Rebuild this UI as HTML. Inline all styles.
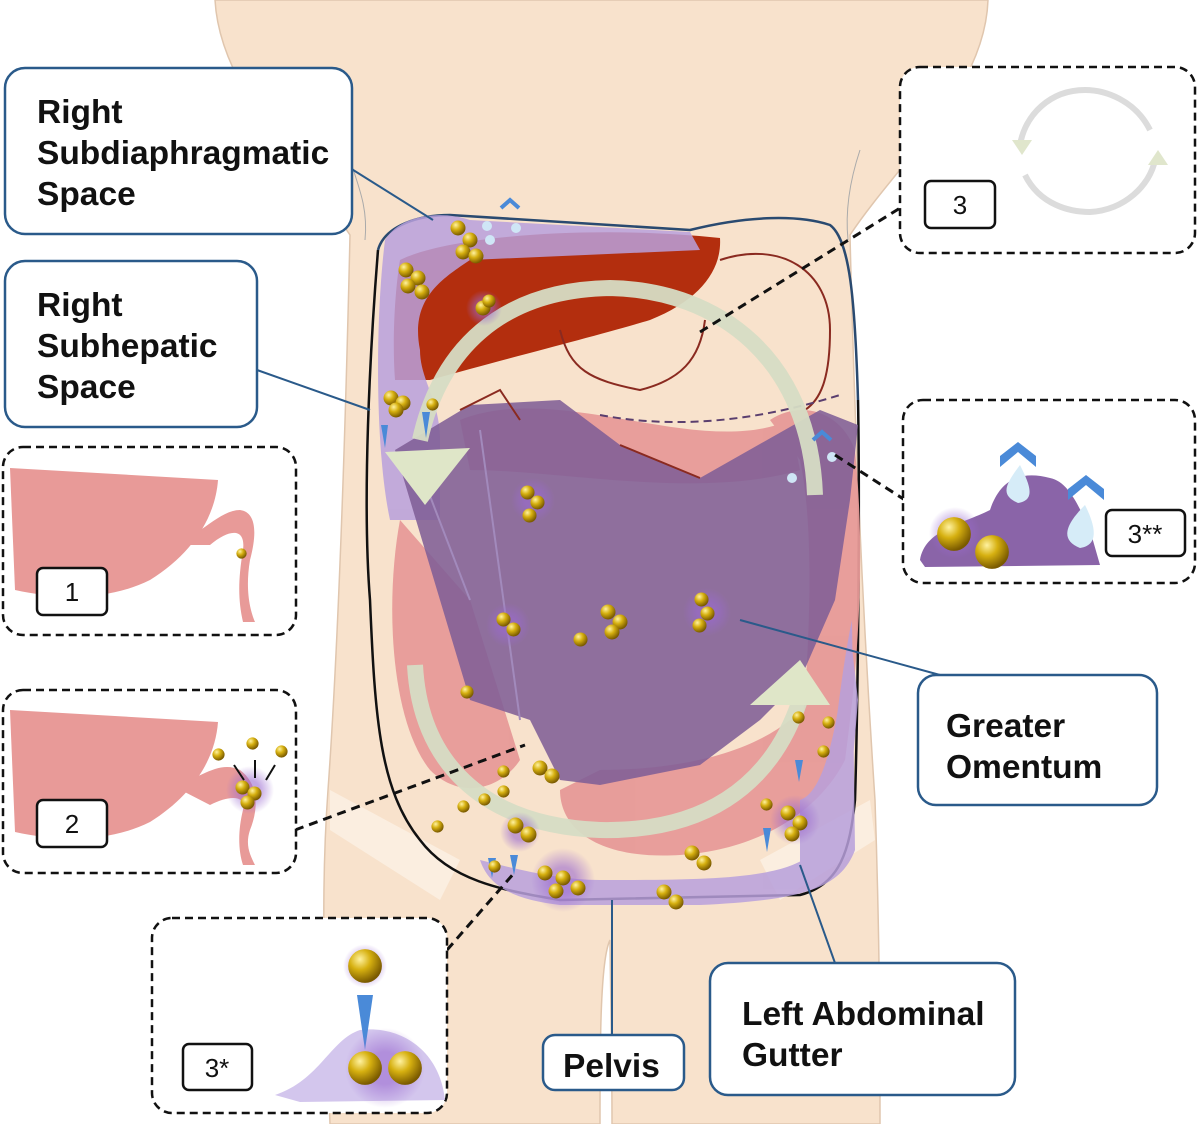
<!DOCTYPE html>
<html><head><meta charset="utf-8"><style>
html,body{margin:0;padding:0;background:#fff;}
svg{display:block}
text{font-family:"Liberation Sans",Arial,sans-serif;}
</style></head><body>
<svg width="1200" height="1124" viewBox="0 0 1200 1124" xmlns="http://www.w3.org/2000/svg">
<defs>
<radialGradient id="g" cx="35%" cy="30%" r="70%"><stop offset="0" stop-color="#fff2a0"/><stop offset="0.45" stop-color="#d6b010"/><stop offset="1" stop-color="#7a5a00"/></radialGradient>
<radialGradient id="gl" cx="50%" cy="50%" r="50%"><stop offset="0.4" stop-color="#9a6ad0" stop-opacity="0.6"/><stop offset="1" stop-color="#9a6ad0" stop-opacity="0"/></radialGradient>
<symbol id="b" viewBox="-8 -8 16 16"><circle r="7.5" fill="url(#g)"/></symbol>
</defs>
<path d="M215 0 L988 0 C985 90 900 160 850 235 C855 450 865 650 875 800 C880 950 880 1050 880 1124 L612 1124 C612 1050 610 960 610 940 C600 960 600 1050 600 1124 L330 1124 C325 1000 320 900 328 790 C338 650 345 450 350 235 C300 160 220 90 215 0 Z" fill="#f8e2cc" stroke="#e0c6ae" stroke-width="1.5"/>
<path d="M330 790 L460 860 L440 900 L330 830 Z" fill="#fbeee0"/>
<path d="M870 800 L760 860 L780 900 L875 840 Z" fill="#fbeee0"/>
<path d="M350 160 C360 190 368 210 365 240" stroke="#aaa" fill="none"/>
<path d="M860 150 C850 180 845 210 848 240" stroke="#aaa" fill="none"/>
<path d="M378 250 C385 225 420 215 450 215 L690 230 C750 215 800 215 830 225 C850 240 855 300 858 400" stroke="#2a4a70" stroke-width="2.5" fill="none"/>
<path d="M378 250 C370 350 362 500 370 600 C375 720 380 790 420 840 C450 880 500 890 560 900 L800 895 C840 885 850 850 855 800 C858 700 860 500 858 400" stroke="#111" stroke-width="2.5" fill="none"/>
<path d="M400 260 C450 235 600 225 720 238 C722 270 700 300 650 320 C600 335 520 355 430 380 L395 380 C392 340 395 290 400 260 Z" fill="#b32e0e"/>
<path d="M720 260 C780 240 830 270 830 330 C830 380 820 400 805 410" stroke="#8a2a20" stroke-width="2" fill="none"/>
<path d="M560 330 C570 370 590 380 640 390 C680 380 700 360 705 320" stroke="#8a2a20" stroke-width="2" fill="none"/>
<g fill="#e79a98" opacity="0.95">
<path d="M400 520 C385 600 390 720 430 770 C460 800 500 790 520 760 L470 600 Z"/>
<path d="M560 790 C560 830 600 860 680 855 C760 850 820 810 845 760 L850 700 L790 720 C740 760 660 770 600 770 Z"/>
<path d="M770 420 C800 400 840 410 855 450 C865 550 860 650 845 760 L800 750 C810 650 815 530 800 460 Z"/>
<path d="M460 420 C560 380 700 460 790 420 L800 470 C700 500 560 470 470 470 Z"/>
</g>
<g fill="#b8a0dc" opacity="0.85">
<path d="M385 240 C400 215 440 210 470 220 L690 232 L700 250 L470 260 C440 280 410 300 420 350 C420 380 440 400 440 440 L440 520 L390 520 C375 450 375 320 385 240 Z"/>
<path d="M480 860 C520 870 560 880 600 880 C700 880 780 880 810 855 C830 820 835 700 852 620 L855 850 C840 890 800 900 700 905 L560 905 C520 900 490 890 480 860 Z"/>
<path d="M800 800 C830 790 840 700 850 630 L858 700 C850 800 845 860 800 870 Z"/>
</g>
<path d="M395 450 L470 405 L560 400 L620 445 L700 478 L820 410 L858 425 L850 500 L835 600 L800 680 L760 720 L700 765 L600 785 L560 780 L530 720 L470 700 L440 600 Z" fill="#7f5e96" opacity="0.88"/>
<path d="M420 470 L470 600 M480 430 L520 720" stroke="#a28abc" stroke-width="2" fill="none"/>
<path d="M620 445 L700 478" stroke="#8a2a20" stroke-width="2" fill="none"/>
<path d="M460 410 L500 390 L520 420" stroke="#8a2a20" stroke-width="2" fill="none"/>
<path d="M600 415 C680 430 760 420 840 395" stroke="#5a3e6e" stroke-width="2" stroke-dasharray="8 5" fill="none"/>
<path d="M815 495 C810 360 720 290 610 288 C500 290 440 350 420 440" stroke="#d6dcc4" stroke-width="16" fill="none" opacity="0.95"/>
<polygon points="385,452 470,448 425,505" fill="#dfe6c8"/>
<path d="M415 665 C420 760 480 825 600 830 C700 832 770 790 800 700" stroke="#d6dcc4" stroke-width="16" fill="none" opacity="0.95"/>
<polygon points="750,705 830,705 800,660" fill="#dfe6c8"/>
<g fill="#4a8ad8">
<polygon points="381,425 388,425 385,448"/><polygon points="422,412 430,412 426,438"/>
<polygon points="488,858 496,858 492,878"/><polygon points="510,855 518,855 514,875"/>
<polygon points="795,760 803,760 799,782"/><polygon points="763,828 771,828 767,852"/>
</g>
<path d="M501 208 L510 200 L519 208" stroke="#4a8ad8" stroke-width="4" fill="none"/>
<path d="M813 440 L822 432 L831 440" stroke="#4a8ad8" stroke-width="4" fill="none"/>
<g fill="#cfe6f6"><circle cx="487" cy="226" r="5"/><circle cx="516" cy="228" r="5"/><circle cx="490" cy="240" r="5"/><circle cx="832" cy="457" r="5"/><circle cx="792" cy="478" r="5"/></g>
<g fill="url(#gl)">
<circle cx="533" cy="500" r="22"/><circle cx="508" cy="625" r="22"/><circle cx="707" cy="612" r="24"/><circle cx="563" cy="880" r="32"/><circle cx="795" cy="820" r="25"/><circle cx="484" cy="308" r="18"/><circle cx="520" cy="832" r="20"/>
</g>
<g>
<use href="#b" x="450" y="220" width="16" height="16"/><use href="#b" x="462" y="232" width="16" height="16"/><use href="#b" x="455" y="244" width="16" height="16"/><use href="#b" x="468" y="248" width="16" height="16"/>
<use href="#b" x="398" y="262" width="16" height="16"/><use href="#b" x="410" y="270" width="16" height="16"/><use href="#b" x="400" y="278" width="16" height="16"/><use href="#b" x="414" y="284" width="16" height="16"/>
<use href="#b" x="475" y="300" width="16" height="16"/><use href="#b" x="482" y="294" width="14" height="14"/>
<use href="#b" x="383" y="390" width="16" height="16"/><use href="#b" x="395" y="395" width="16" height="16"/><use href="#b" x="388" y="402" width="16" height="16"/><use href="#b" x="426" y="398" width="13" height="13"/>
<use href="#b" x="520" y="485" width="15" height="15"/><use href="#b" x="530" y="495" width="15" height="15"/><use href="#b" x="522" y="508" width="15" height="15"/>
<use href="#b" x="496" y="612" width="15" height="15"/><use href="#b" x="506" y="622" width="15" height="15"/>
<use href="#b" x="600" y="604" width="16" height="16"/><use href="#b" x="612" y="614" width="16" height="16"/><use href="#b" x="604" y="624" width="16" height="16"/><use href="#b" x="573" y="632" width="15" height="15"/>
<use href="#b" x="694" y="592" width="15" height="15"/><use href="#b" x="700" y="606" width="15" height="15"/><use href="#b" x="692" y="618" width="15" height="15"/>
<use href="#b" x="460" y="685" width="14" height="14"/>
<use href="#b" x="532" y="760" width="16" height="16"/><use href="#b" x="544" y="768" width="16" height="16"/><use href="#b" x="497" y="765" width="13" height="13"/><use href="#b" x="497" y="785" width="13" height="13"/><use href="#b" x="478" y="793" width="13" height="13"/><use href="#b" x="457" y="800" width="13" height="13"/><use href="#b" x="431" y="820" width="13" height="13"/>
<use href="#b" x="507" y="817" width="17" height="17"/><use href="#b" x="520" y="826" width="17" height="17"/>
<use href="#b" x="537" y="865" width="16" height="16"/><use href="#b" x="555" y="870" width="16" height="16"/><use href="#b" x="570" y="880" width="16" height="16"/><use href="#b" x="548" y="883" width="16" height="16"/>
<use href="#b" x="488" y="860" width="13" height="13"/>
<use href="#b" x="684" y="845" width="16" height="16"/><use href="#b" x="696" y="855" width="16" height="16"/>
<use href="#b" x="656" y="884" width="16" height="16"/><use href="#b" x="668" y="894" width="16" height="16"/>
<use href="#b" x="780" y="805" width="16" height="16"/><use href="#b" x="792" y="815" width="16" height="16"/><use href="#b" x="784" y="826" width="16" height="16"/><use href="#b" x="760" y="798" width="13" height="13"/>
<use href="#b" x="792" y="711" width="13" height="13"/><use href="#b" x="822" y="716" width="13" height="13"/><use href="#b" x="817" y="745" width="13" height="13"/>
</g>
<g stroke="#2a5a8a" stroke-width="2" fill="none">
<line x1="350" y1="168" x2="433" y2="220"/><line x1="257" y1="370" x2="370" y2="410"/>
<line x1="740" y1="620" x2="940" y2="675"/><line x1="612" y1="900" x2="612" y2="1035"/><line x1="800" y1="865" x2="835" y2="963"/>
</g>
<g stroke="#111" stroke-width="3" stroke-dasharray="9 6" fill="none">
<line x1="700" y1="332" x2="905" y2="205"/><line x1="835" y1="455" x2="905" y2="500"/>
<line x1="295" y1="830" x2="525" y2="745"/><line x1="447" y1="950" x2="515" y2="872"/>
</g>
<g fill="#fff" stroke="#2a5a8a" stroke-width="2.5">
<rect x="5" y="68" width="347" height="166" rx="20"/>
<rect x="5" y="261" width="252" height="166" rx="20"/>
<rect x="918" y="675" width="239" height="130" rx="18"/>
<rect x="543" y="1035" width="141" height="55" rx="12"/>
<rect x="710" y="963" width="305" height="132" rx="18"/>
</g>
<g font-weight="bold" font-size="33.5" fill="#111">
<text x="37" y="123">Right</text><text x="37" y="164">Subdiaphragmatic</text><text x="37" y="205">Space</text>
<text x="37" y="316">Right</text><text x="37" y="357">Subhepatic</text><text x="37" y="398">Space</text>
<text x="946" y="737">Greater</text><text x="946" y="778">Omentum</text>
<text x="563" y="1077">Pelvis</text>
<text x="742" y="1025">Left Abdominal</text><text x="742" y="1066">Gutter</text>
</g>
<g fill="#fff" stroke="#111" stroke-width="2.5" stroke-dasharray="8 5">
<rect x="3" y="447" width="293" height="188" rx="20"/>
<rect x="3" y="690" width="293" height="183" rx="20"/>
<rect x="152" y="918" width="295" height="195" rx="20"/>
<rect x="900" y="67" width="295" height="186" rx="20"/>
<rect x="903" y="400" width="292" height="183" rx="20"/>
</g>
<path d="M10 468 L218 480 C215 520 190 555 150 580 C110 600 60 600 15 590 Z" fill="#e89a98"/>
<path d="M175 545 C200 535 220 510 240 510 C255 512 258 530 250 560 C245 590 250 610 255 622 L243 622 C238 600 238 580 243 550 C246 528 230 528 210 545 Z" fill="#e89a98"/>
<use href="#b" x="236" y="548" width="11" height="11"/>
<path d="M10 710 L218 722 C215 762 190 797 150 822 C110 842 60 842 15 832 Z" fill="#e89a98"/>
<path d="M175 787 C200 777 220 760 240 770 C260 785 258 810 250 830 C245 845 250 855 255 865 L243 865 C238 850 238 830 243 810 C246 795 230 795 210 805 Z" fill="#e89a98"/>
<circle cx="250" cy="790" r="24" fill="url(#gl)"/>
<use href="#b" x="235" y="780" width="15" height="15"/><use href="#b" x="247" y="786" width="15" height="15"/><use href="#b" x="240" y="795" width="15" height="15"/>
<use href="#b" x="212" y="748" width="13" height="13"/><use href="#b" x="246" y="737" width="13" height="13"/><use href="#b" x="275" y="745" width="13" height="13"/>
<path d="M244 780 L234 765 M255 778 L255 760 M266 780 L275 765" stroke="#111" stroke-width="2"/>
<path d="M275 1095 C320 1080 330 1040 360 1030 C400 1025 440 1050 445 1100 L300 1102 Z" fill="#c8b8e8" opacity="0.8"/>
<circle cx="365" cy="966" r="22" fill="url(#gl)"/><use href="#b" x="347" y="948" width="36" height="36"/>
<polygon points="357,995 373,995 365,1050" fill="#4a8ad8"/>
<circle cx="385" cy="1068" r="40" fill="url(#gl)"/>
<use href="#b" x="347" y="1050" width="36" height="36"/><use href="#b" x="387" y="1050" width="36" height="36"/>
<path d="M920 560 C925 530 960 525 990 510 C1000 480 1020 470 1050 478 C1070 482 1080 510 1090 530 L1100 565 L925 567 Z" fill="#8a64a8"/>
<circle cx="955" cy="533" r="26" fill="url(#gl)"/>
<use href="#b" x="936" y="516" width="36" height="36"/><use href="#b" x="974" y="534" width="36" height="36"/>
<path d="M1000 467 L1018 452 L1036 467 L1036 456 L1018 442 L1000 456 Z" fill="#4a8ad8"/>
<path d="M1068 500 L1086 485 L1104 500 L1104 489 L1086 475 L1068 489 Z" fill="#4a8ad8"/>
<path d="M1020 465 C1005 485 1000 495 1018 503 C1036 500 1030 485 1020 465 Z" fill="#d6ecf8"/>
<path d="M1085 505 C1065 525 1060 540 1080 548 C1100 545 1095 525 1085 505 Z" fill="#d6ecf8"/>
<path d="M1150 130 C1135 100 1105 90 1085 90 C1050 90 1025 115 1020 145 M1025 175 C1040 205 1070 212 1090 212 C1125 210 1150 185 1155 160" stroke="#dcdcdc" stroke-width="6" fill="none"/>
<polygon points="1012,140 1032,140 1022,155" fill="#e0e6cc"/><polygon points="1148,165 1168,165 1158,150" fill="#e0e6cc"/>
<g fill="#fff" stroke="#111" stroke-width="2.5">
<rect x="37" y="568" width="70" height="47" rx="6"/>
<rect x="37" y="800" width="70" height="47" rx="6"/>
<rect x="183" y="1044" width="69" height="46" rx="6"/>
<rect x="925" y="181" width="70" height="47" rx="6"/>
<rect x="1106" y="510" width="79" height="46" rx="6"/>
</g>
<g font-size="26" fill="#111" text-anchor="middle">
<text x="72" y="601">1</text><text x="72" y="833">2</text><text x="217" y="1077">3*</text><text x="960" y="214">3</text><text x="1145" y="543">3**</text>
</g>
</svg>
</body></html>
